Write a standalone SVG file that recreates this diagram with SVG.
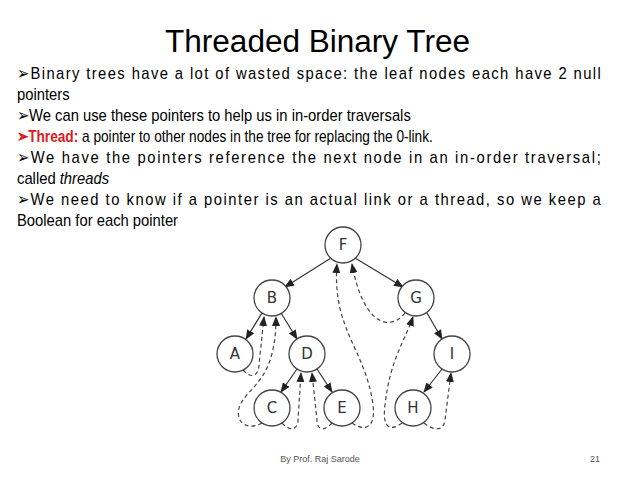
<svg xmlns="http://www.w3.org/2000/svg" width="638" height="479" viewBox="0 0 638 479">
<style>
.t{font-family:"Liberation Sans",Arial,sans-serif;font-size:17px;fill:#000}
.n circle{fill:#fff;stroke:#444;stroke-width:1.3}
.n text{font-family:"DejaVu Sans",sans-serif;font-size:15px;text-anchor:middle;fill:#333}
.e{stroke:#333;stroke-width:1.2;fill:none;marker-end:url(#ah)}
.d{stroke:#444;stroke-width:1.2;fill:none;stroke-dasharray:4 3;marker-end:url(#ah)}
</style>
<defs><marker id="ah" markerWidth="10" markerHeight="8" refX="9" refY="4" orient="auto" markerUnits="userSpaceOnUse"><path d="M0,0 L10,4 L0,8z" fill="#222"/></marker></defs>
<rect width="638" height="479" fill="#fff"/>
<text x="165" y="52" textLength="305" lengthAdjust="spacingAndGlyphs" font-family="Liberation Sans,Arial,sans-serif" font-size="31">Threaded Binary Tree</text>
<g transform="translate(17,0) scale(0.87,1)">
<text class="t" x="0" y="79" textLength="671" lengthAdjust="spacing">➢Binary trees have a lot of wasted space: the leaf nodes each have 2 null</text>
<text class="t" x="0" y="100">pointers</text>
<text class="t" x="0" y="121">➢We can use these pointers to help us in in-order traversals</text>
<text class="t" x="0" y="142" textLength="478" lengthAdjust="spacingAndGlyphs"><tspan fill="#d62020" font-weight="bold">➢Thread:</tspan> a pointer to other nodes in the tree for replacing the 0-link.</text>
<text class="t" x="0" y="163" textLength="671" lengthAdjust="spacing">➢We have the pointers reference the next node in an in-order traversal;</text>
<text class="t" x="0" y="184">called <tspan font-style="italic">threads</tspan></text>
<text class="t" x="0" y="205" textLength="671" lengthAdjust="spacing">➢We need to know if a pointer is an actual link or a thread, so we keep a</text>
<text class="t" x="0" y="226">Boolean for each pointer</text>
</g>
<g id="connectors">
<path class="e" d="M331,258 L285,287"/>
<path class="e" d="M355,258 L403,287"/>
<path class="e" d="M262,313 L246,339"/>
<path class="e" d="M281,313 L297,339"/>
<path class="e" d="M297,369 L281,392"/>
<path class="e" d="M317,369 L332,392"/>
<path class="e" d="M427,313 L442,339"/>
<path class="e" d="M442,369 L424,392"/>
<path class="d" d="M243,370 C250,378 258,378 259,365 L264,317"/>
<path class="d" d="M262,423 C245,432 234,420 240,405 C250,385 276,380 276,317"/>
<path class="d" d="M282,423 C290,432 298,430 298,420 L301,373"/>
<path class="d" d="M332,423 C324,432 317,430 317,420 L312,373"/>
<path class="d" d="M352,423 C365,432 376,428 373,405 C366,350 332,330 337,264"/>
<path class="d" d="M405,313 C390,332 363,325 352,264"/>
<path class="d" d="M402,423 C390,432 382,428 385,405 C390,360 405,340 413,317"/>
<path class="d" d="M424,423 C435,432 444,430 445,420 L451,373"/>
</g>
<g id="F" class="n"><circle cx="343" cy="245" r="18"/><text x="343" y="250">F</text></g>
<g id="B" class="n"><circle cx="272" cy="298" r="18"/><text x="272" y="303">B</text></g>
<g id="G" class="n"><circle cx="416" cy="298" r="18"/><text x="416" y="303">G</text></g>
<g id="A" class="n"><circle cx="235" cy="354" r="18"/><text x="235" y="359">A</text></g>
<g id="D" class="n"><circle cx="307" cy="354" r="18"/><text x="307" y="359">D</text></g>
<g id="I" class="n"><circle cx="452" cy="354" r="18"/><text x="452" y="359">I</text></g>
<g id="C" class="n"><circle cx="272" cy="408" r="18"/><text x="272" y="413">C</text></g>
<g id="E" class="n"><circle cx="342" cy="408" r="18"/><text x="342" y="413">E</text></g>
<g id="H" class="n"><circle cx="413" cy="408" r="18"/><text x="413" y="413">H</text></g>
<text x="320" y="462" text-anchor="middle" font-family="Liberation Sans,Arial,sans-serif" font-size="9" fill="#555">By Prof. Raj Sarode</text>
<text x="595" y="462" text-anchor="middle" font-family="Liberation Sans,Arial,sans-serif" font-size="9" fill="#555">21</text>
</svg>
